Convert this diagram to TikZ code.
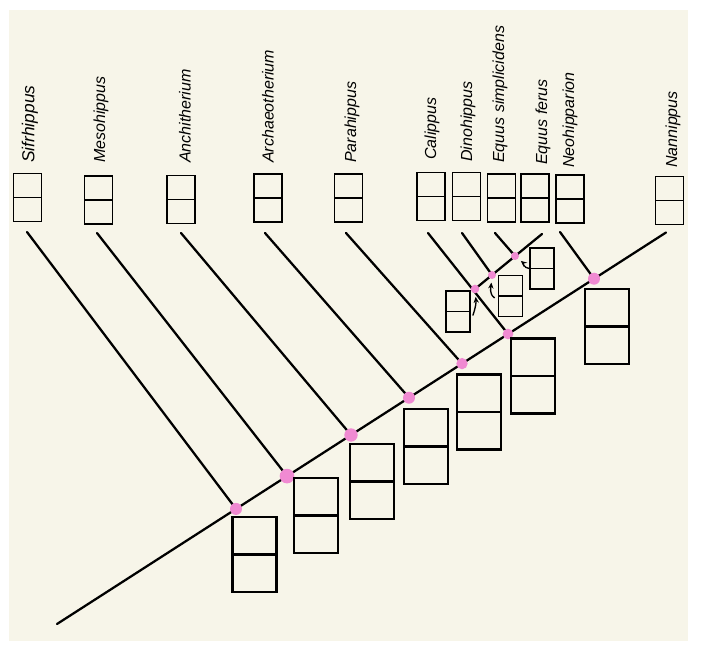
\documentclass[tikz,border=0pt]{standalone}
\usepackage{fontspec}
\setmainfont{Liberation Sans}
\usetikzlibrary{arrows.meta,calc,positioning}
\definecolor{paperColor}{RGB}{247,245,233}
\definecolor{nodeColor}{RGB}{240,138,210}
\tikzset{branch/.style={line width=1.7pt, line cap=round}}
\tikzset{tooth/.style={draw, line width=#1, inner sep=0pt, minimum width=21pt, minimum height=36pt, path picture={\draw[line width=#1] (path picture bounding box.west) -- (path picture bounding box.east);}}, tooth/.default=1.2pt}
\tikzset{bigtooth/.style={tooth=1.8pt, minimum width=33pt, minimum height=56pt}}
\tikzset{sidetooth/.style={tooth, minimum width=18pt, minimum height=30.5pt}}
\tikzset{junction/.style={circle, fill=nodeColor, inner sep=0pt, minimum size=9pt}}
\tikzset{taxon/.style={rotate=90, anchor=west, inner sep=0pt, font=\fontsize{12}{14}\selectfont\itshape}}

\begin{document}
\begin{tikzpicture}[x=0.75pt, y=-0.75pt]
\pgfdeclarelayer{background}
\pgfsetlayers{background,main}

\useasboundingbox (0,0) rectangle (702,652);

% Nodes
    \node (lblSifrhippus) [taxon, font=\fontsize{13}{15}\selectfont\itshape] at (30,163) {Sifrhippus};
    \node (lblMesohippus) [taxon] at (101,163) {Mesohippus};
    \node (lblAnchitherium) [taxon] at (185,163) {Anchitherium};
    \node (lblArchaeotherium) [taxon] at (268,163) {Archaeotherium};
    \node (lblParahippus) [taxon] at (352,163) {Parahippus};
    \node (lblCalippus) [taxon] at (432,160) {Calippus};
    \node (lblDinohippus) [taxon] at (468,162) {Dinohippus};
    \node (lblEquusSimplicidens) [taxon] at (500,163) {Equus simplicidens};
    \node (lblEquusFerus) [taxon] at (543,165) {Equus ferus};
    \node (lblNeohipparion) [taxon] at (570,168) {Neohipparion};
    \node (lblNannippus) [taxon] at (673,168) {Nannippus};

    \node (toothSifrhippus) [tooth] at (27.5,197.5) {};
    \node (toothMesohippus) [tooth] at (98.5,200) {};
    \node (toothAnchitherium) [tooth] at (181,199.5) {};
    \node (toothArchaeotherium) [tooth] at (268,198) {};
    \node (toothParahippus) [tooth] at (348.5,198) {};
    \node (toothCalippus) [tooth] at (431,196.5) {};
    \node (toothDinohippus) [tooth] at (466.5,196.5) {};
    \node (toothEquusSimplicidens) [tooth] at (501.5,198) {};
    \node (toothEquusFerus) [tooth] at (535,198) {};
    \node (toothNeohipparion) [tooth] at (570,199) {};
    \node (toothNannippus) [tooth] at (669.5,200.5) {};

    \coordinate (root) at (57,624);
    \coordinate (tipNannippus) at (666,232.5);
    \coordinate (tipSifrhippus) at (27,232);
    \coordinate (tipMesohippus) at (97,233);
    \coordinate (tipAnchitherium) at (181,233);
    \coordinate (tipArchaeotherium) at (265,233);
    \coordinate (tipParahippus) at (346,233);
    \coordinate (tipCalippus) at (428,233);
    \coordinate (tipDinohippus) at (462,233);
    \coordinate (tipEquusSimplicidens) at (495,233);
    \coordinate (tipEquusFerus) at (542,234);
    \coordinate (tipNeohipparion) at (560,232);

    \node (jSifrhippus) [junction] at (236,508.9) {};
    \node (jMesohippus) [junction, minimum size=11pt] at (287,476.1) {};
    \node (jAnchitherium) [junction, minimum size=10pt] at (351,435) {};
    \node (jArchaeotherium) [junction] at (409,397.7) {};
    \node (jParahippus) [junction, minimum size=8.5pt] at (462,363.6) {};
    \node (jCalippus) [junction, minimum size=8pt] at (508,334) {};
    \node (jNeohipparion) [junction] at (594,278.7) {};

    \node (jDinohippus) [junction, minimum size=6.5pt] at (475,289) {};
    \node (jEquusSimplicidens) [junction, minimum size=6pt] at (492,275) {};
    \node (jEquusFerus) [junction, minimum size=6pt] at (515,256) {};

    \node (bigSifrhippus) [bigtooth] at (254.5,554.5) {};
    \node (bigMesohippus) [bigtooth] at (316,515.5) {};
    \node (bigAnchitherium) [bigtooth] at (372,481.5) {};
    \node (bigArchaeotherium) [bigtooth] at (426,446.5) {};
    \node (bigParahippus) [bigtooth] at (479,412) {};
    \node (bigCalippus) [bigtooth] at (533,376) {};
    \node (bigNeohipparion) [bigtooth] at (607,326.5) {};

    \node (sideDinohippus) [sidetooth] at (458,311.5) {};
    \node (sideEquusSimplicidens) [sidetooth] at (510.5,296) {};
    \node (sideEquusFerus) [sidetooth] at (542,268.5) {};

% Connectors
\begin{pgfonlayer}{background}
    \fill[paperColor] (9,10) rectangle (688,641);
    \draw [branch] (root) -- (tipNannippus);
    \draw [branch] (tipSifrhippus) -- (jSifrhippus.center);
    \draw [branch] (tipMesohippus) -- (jMesohippus.center);
    \draw [branch] (tipAnchitherium) -- (jAnchitherium.center);
    \draw [branch] (tipArchaeotherium) -- (jArchaeotherium.center);
    \draw [branch] (tipParahippus) -- (jParahippus.center);
    \draw [branch] (tipCalippus) -- (jCalippus.center);
    \draw [branch] (tipNeohipparion) -- (jNeohipparion.center);
    \draw [branch] (jDinohippus.center) -- (tipEquusFerus);
    \draw [branch] (tipDinohippus) -- (jEquusSimplicidens.center);
    \draw [branch] (tipEquusSimplicidens) -- (jEquusFerus.center);
\end{pgfonlayer}

\begin{scope}[line width=1pt, -{Stealth[length=4.5pt, width=4pt]}, shorten >=2.5pt]
    \draw ($(sideDinohippus.east)+(2,4)$) to[out=70, in=-85] (jDinohippus);
    \draw ($(sideEquusSimplicidens.west)+(-3,2)$) to[out=145, in=-95] (jEquusSimplicidens);
    \draw (sideEquusFerus.west) to[out=175, in=-40] (jEquusFerus);
\end{scope}

\end{tikzpicture}
\end{document}
